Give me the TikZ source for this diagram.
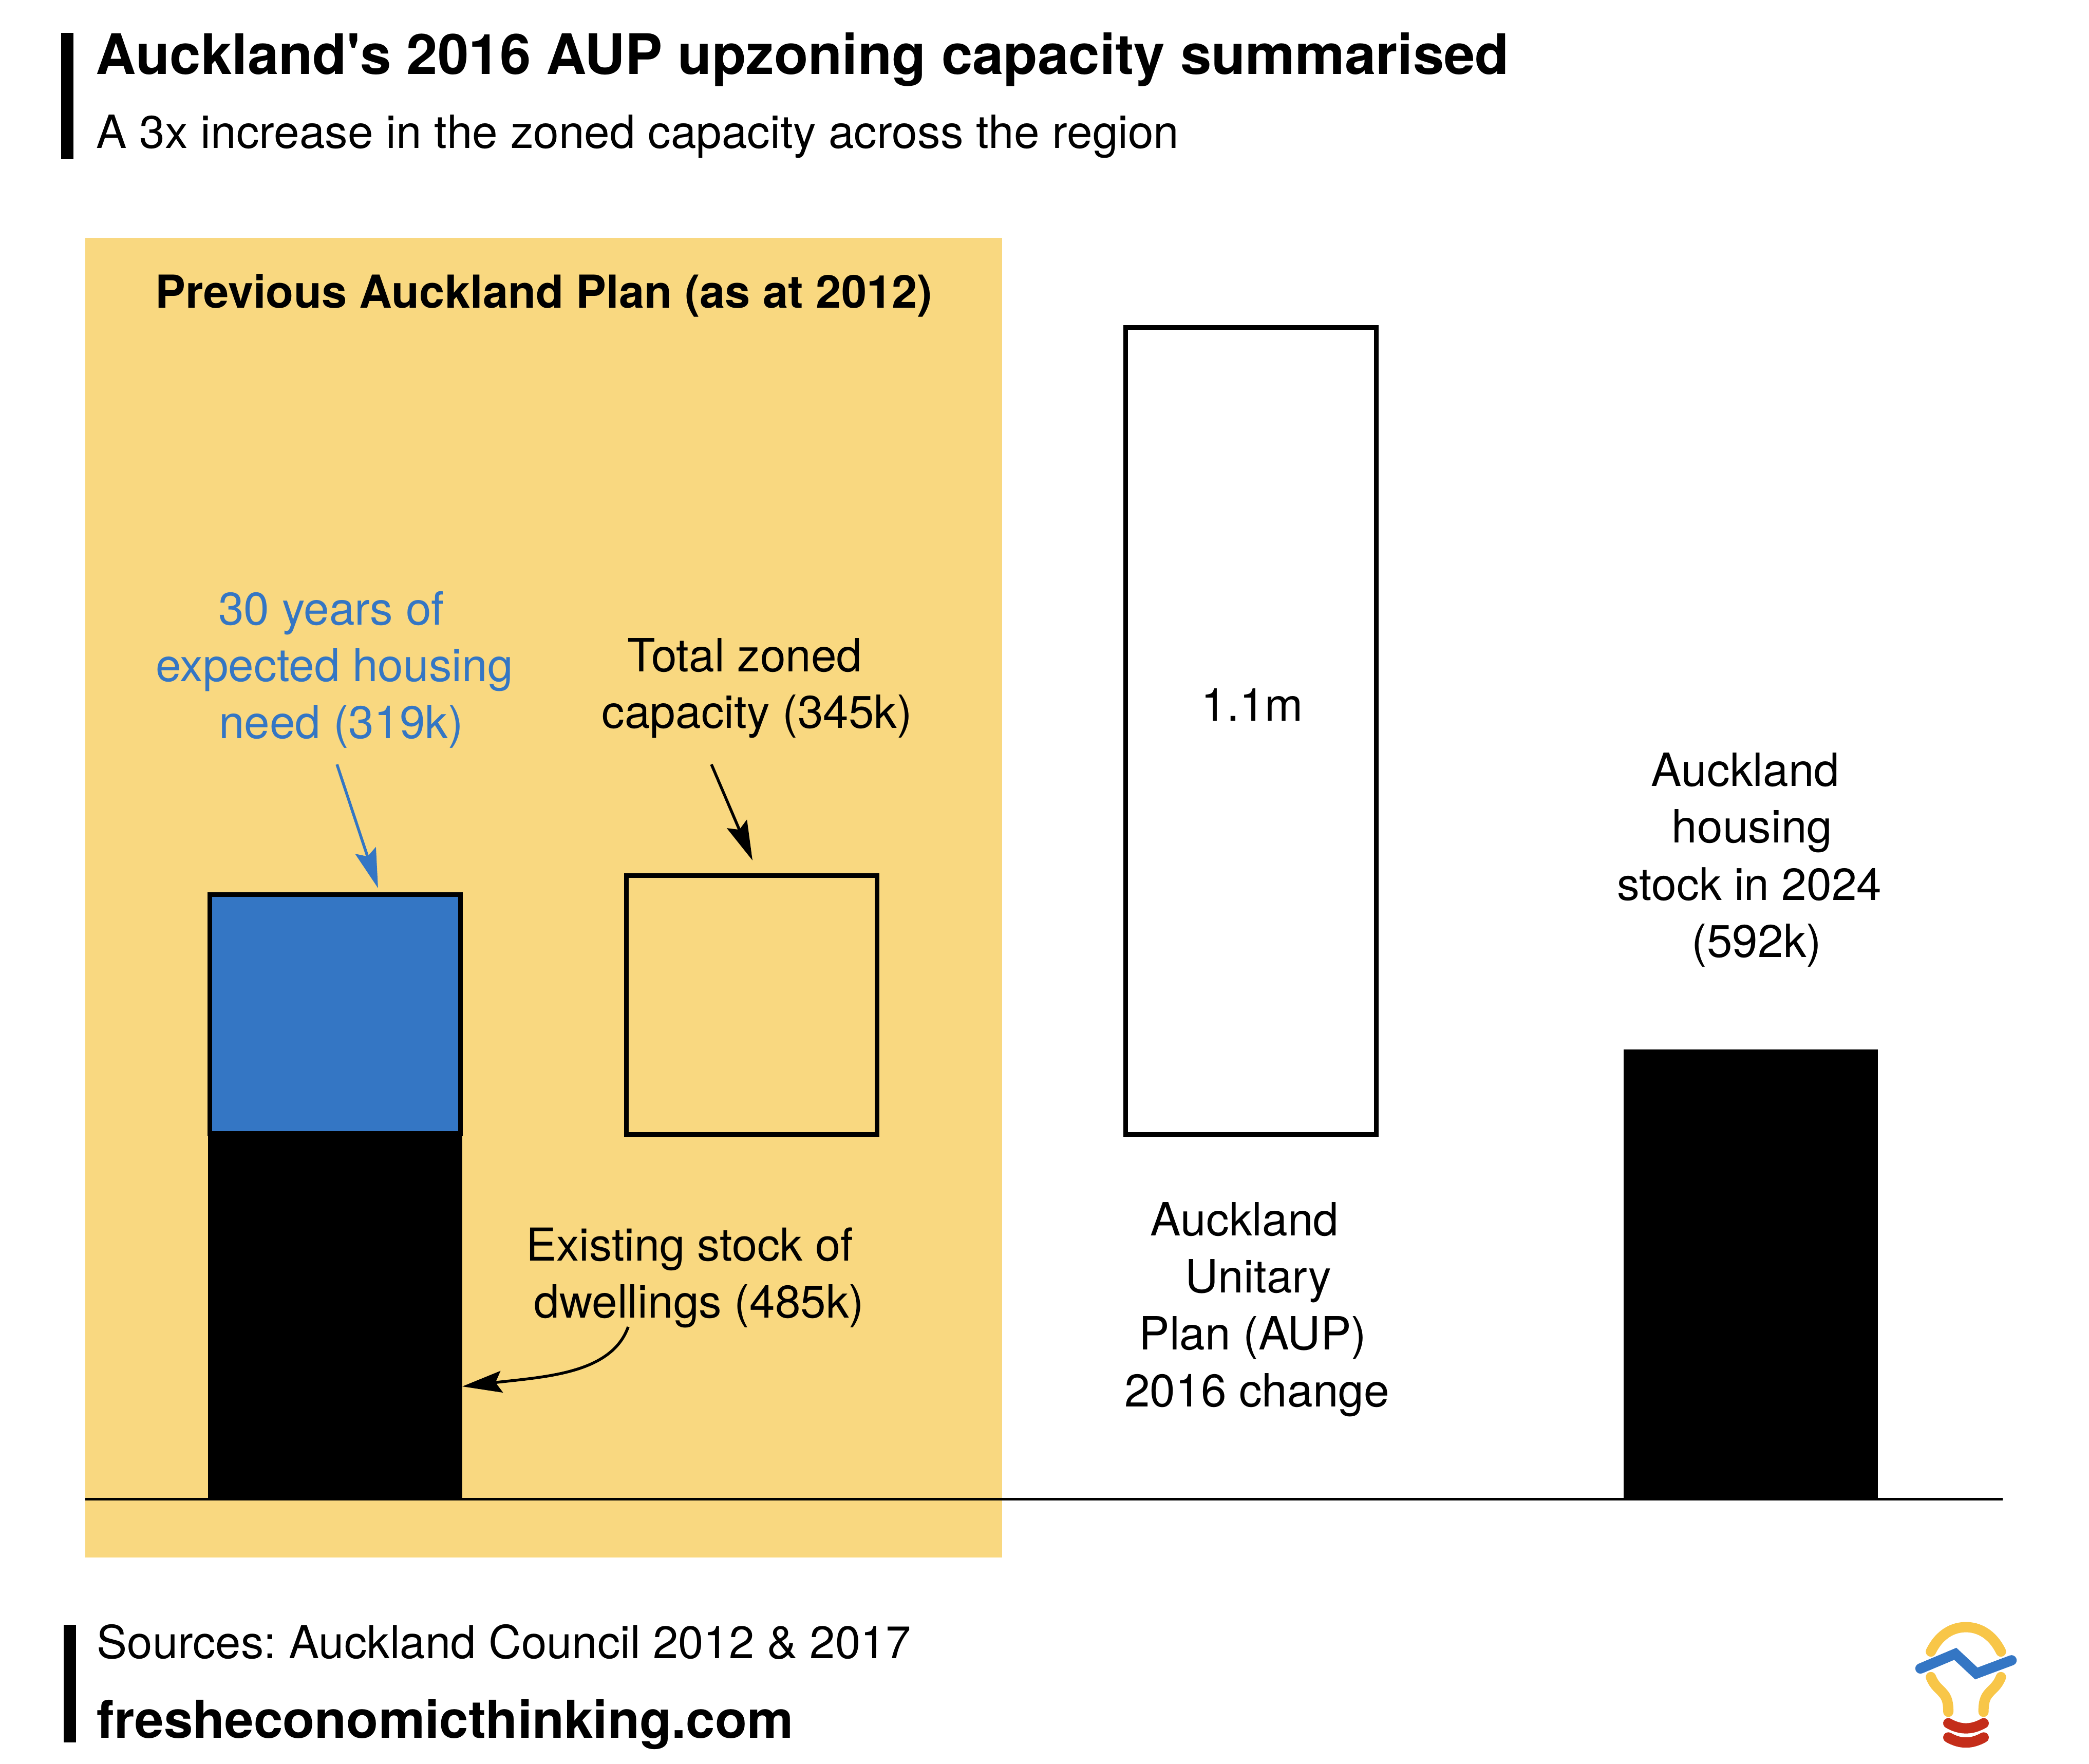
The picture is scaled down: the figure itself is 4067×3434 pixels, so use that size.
\documentclass[tikz,border=0pt]{standalone}
\usepackage{fontspec}
\newfontfamily\helv{TeX Gyre Heros}
\usetikzlibrary{arrows.meta}
\definecolor{panel}{HTML}{F9D880}
\definecolor{bluebar}{HTML}{3476C4}
\definecolor{logoy}{HTML}{F8C648}
\definecolor{logor}{HTML}{C42D1A}
\tikzset{
  txt/.style={anchor=base,inner sep=0pt,font=\helv\fontsize{25.35}{25.35}\selectfont},
  head/.style={anchor=base west,inner sep=0pt,font=\helv\fontsize{30.9}{30.9}\selectfont\bfseries},
  barbox/.style={draw=black,line width=0.09cm,minimum width=4.87cm,inner sep=0pt},
  solidbar/.style={fill=black,minimum width=4.95cm,inner sep=0pt,outer sep=0pt},
  ann/.style={line width=0.055cm,-{Stealth[length=0.77cm,width=0.42cm,inset=0.12cm]}},
  logo/.style={line width=0.2cm,line cap=round}
}
\begin{document}
\frenchspacing
\begin{tikzpicture}[x=0.01cm,y=-0.01cm]
\useasboundingbox (0,0) rectangle (4067,3434);
\fill[white] (0,0) rectangle (4067,3434);
\fill[panel] (166,463) rectangle (1951,3032);
% side bars
\fill[black] (119,64) rectangle (143,310);
\fill[black] (124,3163) rectangle (148,3392);
% heading texts
\node[head] (title) at (186,145) {Auckland's 2016 AUP upzoning capacity summarised};
\node[txt,anchor=base west] (sub) at (187,289) {A 3x increase in the zoned capacity across the region};
\node[txt,font=\helv\fontsize{25.15}{25.15}\selectfont\bfseries] (prev) at (1059,600) {Previous Auckland Plan (as at 2012)};
% bars
\node[solidbar,minimum height=7.16cm] (stock) at (652.5,2560) {};
\node[barbox,fill=bluebar,minimum height=4.64cm] (need) at (652.5,1974) {};
\node[barbox,minimum height=5.03cm] (zoned) at (1463.5,1956.5) {};
\node[barbox,fill=white,minimum height=15.70cm] (aup) at (2435.5,1423) {};
\node[solidbar,minimum height=8.75cm] (stocknow) at (3408.5,2480.5) {};
% axis
\coordinate (axl) at (166,2918);
\coordinate (axr) at (3899,2918);
\draw[line width=0.05cm] (axl) -- (axr);
% labels
\node[txt,text=bluebar] (n1) at (645,1216) {30 years of};
\node[txt,text=bluebar] (n2) at (651,1326) {expected housing};
\node[txt,text=bluebar] (n3) at (664,1437) {need (319k)};
\node[txt] (z1) at (1450,1307) {Total zoned};
\node[txt] (z2) at (1474,1417) {capacity (345k)};
\node[txt,font=\helv\fontsize{25.1}{25.1}\selectfont] (e1) at (1343,2454) {Existing stock of};
\node[txt] (e2) at (1361,2565) {dwellings (485k)};
\node[txt] (m) at (2438,1403) {1.1m};
\node[txt] (a1) at (2423,2405) {Auckland};
\node[txt] (a2) at (2450,2516) {Unitary};
\node[txt] (a3) at (2439,2627) {Plan (AUP)};
\node[txt] (a4) at (2447,2738) {2016 change};
\node[txt] (h1) at (3398,1530) {Auckland};
\node[txt] (h2) at (3411,1640) {housing};
\node[txt,font=\helv\fontsize{24.9}{24.9}\selectfont] (h3) at (3406,1752) {stock in 2024};
\node[txt] (h4) at (3420,1863) {(592k)};
% connectors
\coordinate (nfrom) at (656,1488);
\coordinate (nto) at (736,1729);
\coordinate (zfrom) at (1385,1488);
\coordinate (zto) at (1465,1675);
\coordinate (efrom) at (1223,2583);
\coordinate (eto) at (900,2699);
\draw[ann,draw=bluebar] (nfrom) -- (nto);
\draw[ann] (zfrom) -- (zto);
\draw[ann] (efrom) .. controls (1190,2675) and (1060,2680) .. (eto);
% footer
\node[txt,anchor=base west,font=\helv\fontsize{25.2}{25.2}\selectfont] (src) at (188,3228) {Sources: Auckland Council 2012 \& 2017};
\node[head,font=\helv\fontsize{28.9}{28.9}\selectfont\bfseries] (web) at (188,3383) {fresheconomicthinking.com};
% logo
\begin{scope}[shift={(3600,3100)},x=0.003333cm,y=-0.003333cm]
\draw[logo,logoy] (478,346) .. controls (530,240) and (610,203) .. (683,203) .. controls (756,203) and (836,240) .. (888,346);
\draw[logo,logoy] (478,495) .. controls (500,550) and (530,565) .. (545,585) .. controls (575,615) and (580,650) .. (580,698);
\draw[logo,logoy] (888,495) .. controls (866,550) and (836,565) .. (821,585) .. controls (791,615) and (786,650) .. (786,698);
\draw[logo,bluebar,line join=miter] (417,445) -- (621,359) -- (744,474) -- (950,397);
\draw[logo,logor] (580,765) .. controls (650,805) and (716,805) .. (787,765);
\draw[logo,logor] (580,848) .. controls (650,888) and (716,888) .. (787,848);
\end{scope}
\end{tikzpicture}
\end{document}
